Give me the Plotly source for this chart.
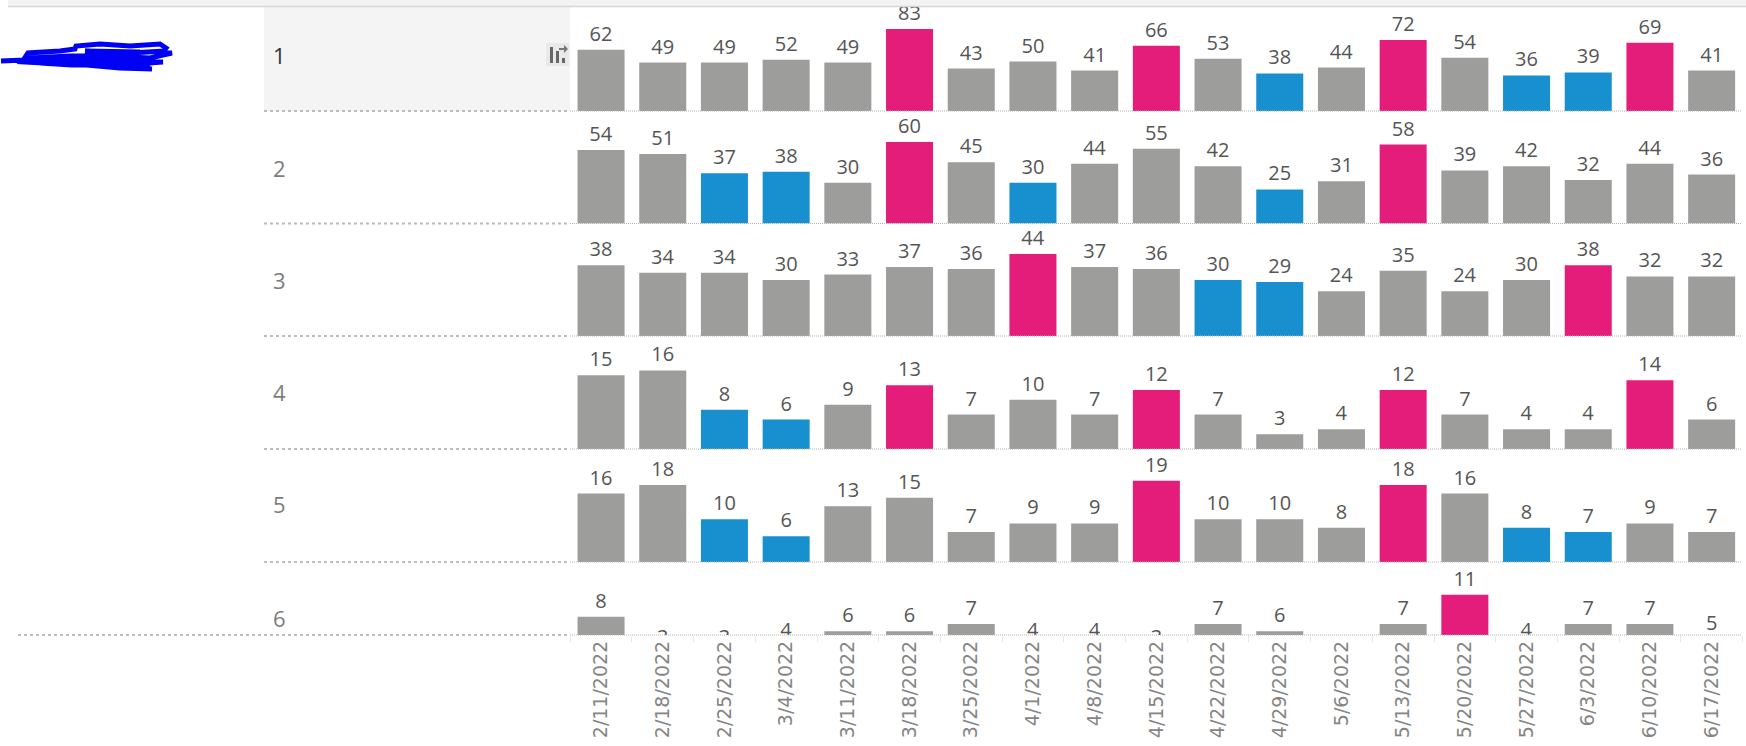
import plotly.graph_objects as go

W, H = 1746, 746

weeks = ["2/11/2022", "2/18/2022", "2/25/2022", "3/4/2022", "3/11/2022", "3/18/2022", "3/25/2022",
         "4/1/2022", "4/8/2022", "4/15/2022", "4/22/2022", "4/29/2022", "5/6/2022", "5/13/2022",
         "5/20/2022", "5/27/2022", "6/3/2022", "6/10/2022", "6/17/2022"]

row_names = ["1", "2", "3", "4", "5", "6"]

row1 = [62, 49, 49, 52, 49, 83, 43, 50, 41, 66, 53, 38, 44, 72, 54, 36, 39, 69, 41]
row2 = [54, 51, 37, 38, 30, 60, 45, 30, 44, 55, 42, 25, 31, 58, 39, 42, 32, 44, 36]
row3 = [38, 34, 34, 30, 33, 37, 36, 44, 37, 36, 30, 29, 24, 35, 24, 30, 38, 32, 32]
row4 = [15, 16, 8, 6, 9, 13, 7, 10, 7, 12, 7, 3, 4, 12, 7, 4, 4, 14, 6]
row5 = [16, 18, 10, 6, 13, 15, 7, 9, 9, 19, 10, 10, 8, 18, 16, 8, 7, 9, 7]
row6 = [8, 3, 3, 4, 6, 6, 7, 4, 4, 3, 7, 6, 2, 7, 11, 4, 7, 7, 5]
rows = [row1, row2, row3, row4, row5, row6]

# Week indices flagged high (pink) and low (blue) in each row
high_weeks = [[5, 9, 13, 17], [5, 13], [7, 16], [5, 9, 13, 17], [9, 13], [14]]
low_weeks = [[11, 15, 16], [2, 3, 7, 11], [10, 11], [2, 3], [2, 3, 15, 16], []]

GREY, BLUE, PINK = "#9d9d9b", "#1890d0", "#e41c7a"
LABEL = "Open Sans, sans-serif"
DATE_FONT = "DejaVu Sans, sans-serif"

# Pixel extent of each row band and the value window shown in it
bands = [(7, 111), (111, 223.5), (223.5, 336), (336, 449), (449, 562), (562, 635)]
windows = [(0, 105.3), (0, 82.7), (0, 60.4), (0, 23.0), (0, 26.4), (5.5, 15.5)]
plot_left, plot_right = 570.2, 1742.5


def px(x):
    return x / W


def py(y):
    return 1 - y / H


fig = go.Figure()
layout_axes = {}
for i, values in enumerate(rows):
    suffix = "" if i == 0 else str(i + 1)
    colors = [PINK if k in high_weeks[i] else BLUE if k in low_weeks[i] else GREY
              for k in range(len(weeks))]
    fig.add_trace(go.Bar(
        x=weeks, y=values, xaxis="x" + suffix, yaxis="y" + suffix,
        marker=dict(color=colors, line=dict(width=0)),
        text=[str(v) for v in values], textposition="outside", textangle=0,
        constraintext="none", cliponaxis=True,
        textfont=dict(family=LABEL, size=20, color="#555555"),
        hoverinfo="x+y", showlegend=False,
    ))
    last = i == len(rows) - 1
    layout_axes["xaxis" + suffix] = dict(
        domain=[px(plot_left), px(plot_right)], anchor="y" + suffix, type="category",
        categoryorder="array", categoryarray=weeks, range=[-0.5, len(weeks) - 0.5],
        showgrid=False, zeroline=False, showline=False,
        showticklabels=last, tickangle=-90, ticks="outside" if last else "",
        ticklen=6, tickwidth=1, tickcolor="#e8e8e8", tickson="boundaries",
        ticklabelstandoff=1,
        tickfont=dict(family=DATE_FONT, size=19, color="#858585"),
    )
    layout_axes["yaxis" + suffix] = dict(
        domain=[py(bands[i][1]), py(bands[i][0])], anchor="x" + suffix, range=list(windows[i]),
        visible=False, fixedrange=True,
    )

shapes = [
    # Header strip across the top of the view
    dict(type="rect", xref="paper", yref="paper", x0=px(8), x1=1, y0=py(0), y1=py(6),
         fillcolor="#f3f3f3", line_width=0, layer="below"),
    dict(type="line", xref="paper", yref="paper", x0=px(8), x1=1, y0=py(6.5), y1=py(6.5),
         line=dict(color="#d6d6d6", width=1.5)),
    # Selected row background
    dict(type="rect", xref="paper", yref="paper", x0=px(264), x1=px(570), y0=py(7), y1=py(111),
         fillcolor="#f4f4f4", line_width=0, layer="below"),
]

# Dotted separators under each row
for i, (_, bottom) in enumerate(bands):
    start = 18 if i == len(bands) - 1 else 264
    shapes.append(dict(type="line", xref="paper", yref="paper", x0=px(start), x1=px(570),
                       y0=py(bottom), y1=py(bottom), line=dict(color="#bdbdbd", width=2, dash="dot")))
    shapes.append(dict(type="line", xref="paper", yref="paper", x0=px(570), x1=px(1742),
                       y0=py(bottom), y1=py(bottom), line=dict(color="#b4b4b4", width=1, dash="1px,1px")))

# Ink scribble over the row-group caption
scribble = [(1, 61), (25, 60), (48, 60), (26, 56), (28, 53), (60, 51), (75, 49), (76, 46), (100, 44),
            (130, 46), (160, 44), (166, 48), (162, 53), (172, 53), (150, 58), (110, 56), (70, 56), (30, 58),
            (24, 62), (60, 64), (100, 62), (163, 62), (120, 65), (72, 65), (40, 63), (70, 59), (120, 60),
            (150, 66), (115, 67), (152, 69), (120, 68), (75, 64), (100, 54), (140, 52), (85, 51), (130, 53), (165, 51)]
scribble_path = "M " + " L ".join(f"{px(x):.5f} {py(y):.5f}" for x, y in scribble)
shapes.append(dict(type="path", xref="paper", yref="paper", path=scribble_path,
                   line=dict(color="#0000f5", width=5)))


def box(x0, y0, x1, y1, color):
    return dict(type="rect", xref="paper", yref="paper", x0=px(x0), x1=px(x1), y0=py(y0), y1=py(y1),
                fillcolor=color, line_width=0)


# Small sort-control icon on the selected row
shapes += [
    box(546, 43, 569, 66, "#e9e9e9"),
    box(550, 47, 553, 63, "#666666"),
    box(556, 51, 559, 63, "#666666"),
    box(562, 58, 565, 63, "#666666"),
    box(559, 48, 564, 50, "#777777"),
    dict(type="path", xref="paper", yref="paper", line_width=0, fillcolor="#777777",
         path=f"M {px(564):.5f} {py(45):.5f} L {px(568):.5f} {py(49):.5f} L {px(564):.5f} {py(53):.5f} Z"),
]

row_label_y = [55, 168, 280, 392, 504, 618]
annotations = [
    dict(text=name, xref="paper", yref="paper", x=px(271), y=py(yy), xanchor="left", yanchor="middle",
         showarrow=False, font=dict(family=LABEL, size=22, color="#333333" if i == 0 else "#7d7d7d"))
    for i, (name, yy) in enumerate(zip(row_names, row_label_y))
]

fig.update_layout(
    width=W, height=H, margin=dict(l=0, r=0, t=0, b=0), paper_bgcolor="white", plot_bgcolor="rgba(0,0,0,0)",
    bargap=0.238, shapes=shapes, annotations=annotations, **layout_axes,
)
fig.write_html("out.html", config={"displayModeBar": False})
